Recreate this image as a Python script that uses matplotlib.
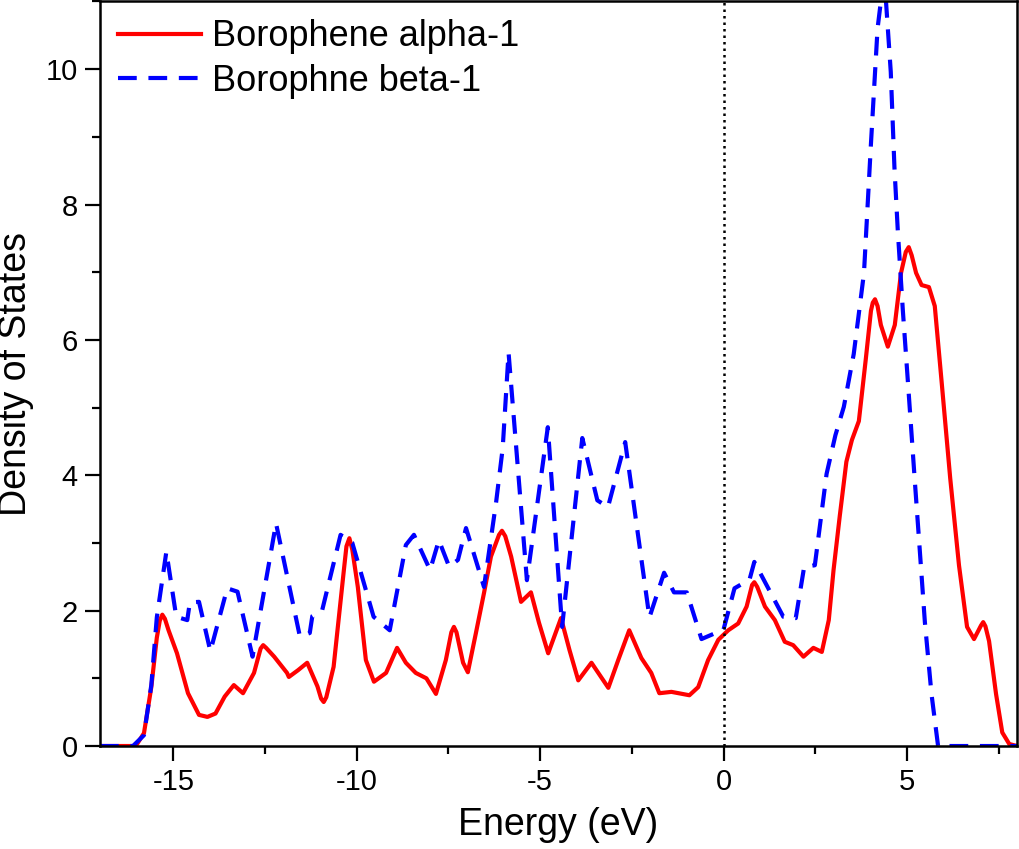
import matplotlib
matplotlib.use("Agg")
import matplotlib.pyplot as plt
from matplotlib.ticker import MultipleLocator

plt.rcParams['font.family'] = ['Liberation Sans', 'DejaVu Sans']
plt.rcParams['axes.unicode_minus'] = False

# Borophene alpha-1 (red, solid) - energy (eV), DOS
alpha_e = [-17.0, -16.1, -16.0, -15.8, -15.6, -15.45, -15.37, -15.3, -15.23, -15.13,
           -14.9, -14.6, -14.3, -14.07, -13.85, -13.6, -13.35, -13.1, -12.8, -12.62,
           -12.55, -12.47, -12.25, -11.9, -11.85, -11.6, -11.35, -11.07, -10.97, -10.9,
           -10.83, -10.63, -10.35, -10.28, -10.2, -10.12, -9.97, -9.75, -9.53, -9.2,
           -8.9, -8.66, -8.39, -8.1, -7.84, -7.57, -7.42, -7.35, -7.28, -7.1,
           -6.97, -6.75, -6.53, -6.34, -6.12, -6.04, -5.95, -5.79, -5.52, -5.25,
           -5.03, -4.78, -4.43, -4.2, -3.96, -3.6, -3.14, -2.87, -2.57, -2.24,
           -1.97, -1.75, -1.42, -0.93, -0.69, -0.42, -0.14, 0.13, 0.4, 0.63,
           0.78, 0.84, 0.92, 1.13, 1.4, 1.67, 1.9, 2.18, 2.45, 2.68,
           2.87, 3.0, 3.17, 3.35, 3.5, 3.69, 3.88, 4.02, 4.07, 4.13,
           4.2, 4.29, 4.48, 4.67, 4.84, 4.97, 5.05, 5.13, 5.25, 5.4,
           5.6, 5.76, 5.95, 6.18, 6.42, 6.64, 6.83, 7.02, 7.08, 7.14,
           7.24, 7.43, 7.6, 7.79, 8.0]
alpha_dos = [0.0, 0.0, 0.02, 0.19, 0.87, 1.6, 1.85, 1.94, 1.88, 1.71,
             1.37, 0.78, 0.46, 0.43, 0.48, 0.73, 0.9, 0.78, 1.08, 1.44,
             1.49, 1.45, 1.32, 1.08, 1.02, 1.12, 1.23, 0.88, 0.7, 0.65,
             0.72, 1.17, 2.6, 2.95, 3.07, 2.9, 2.35, 1.27, 0.95, 1.08,
             1.45, 1.23, 1.08, 1.0, 0.77, 1.27, 1.68, 1.76, 1.68, 1.23,
             1.09, 1.67, 2.26, 2.8, 3.12, 3.18, 3.1, 2.8, 2.13, 2.27,
             1.82, 1.37, 1.89, 1.42, 0.97, 1.23, 0.86, 1.27, 1.71, 1.3,
             1.08, 0.78, 0.8, 0.75, 0.87, 1.27, 1.57, 1.71, 1.81, 2.06,
             2.38, 2.42, 2.35, 2.06, 1.86, 1.54, 1.49, 1.32, 1.45, 1.39,
             1.86, 2.6, 3.4, 4.2, 4.52, 4.8, 5.72, 6.43, 6.55, 6.6,
             6.5, 6.22, 5.9, 6.22, 6.99, 7.3, 7.37, 7.25, 6.99, 6.81,
             6.78, 6.5, 5.36, 3.96, 2.67, 1.76, 1.58, 1.78, 1.83, 1.77,
             1.55, 0.77, 0.2, 0.03, 0.0]

# Borophne beta-1 (blue, dashed)
beta_e = [-17.0, -16.1, -15.8, -15.6, -15.45, -15.19, -14.92, -14.62, -14.55, -14.3,
          -13.99, -13.53, -13.25, -12.84, -12.2, -11.55, -11.28, -11.21, -10.94, -10.44,
          -10.12, -9.54, -9.1, -8.66, -8.44, -8.0, -7.76, -7.48, -7.24, -7.02,
          -6.53, -6.2, -6.02, -5.86, -5.36, -4.79, -4.4, -3.85, -3.44, -3.15,
          -2.68, -2.02, -1.62, -1.35, -1.0, -0.6, 0.0, 0.3, 0.71, 0.84,
          1.63, 1.97, 2.2, 2.49, 2.81, 3.05, 3.28, 3.55, 3.83, 4.02,
          4.2, 4.38, 4.56, 4.66, 4.75, 4.89, 5.03, 5.21, 5.35, 5.49,
          5.67, 5.85, 8.0]
beta_dos = [0.0, 0.0, 0.16, 0.9, 1.9, 2.87, 1.91, 1.86, 2.12, 2.13,
            1.4, 2.33, 2.28, 1.32, 3.29, 1.62, 1.67, 1.92, 2.01, 3.12,
            3.0, 1.91, 1.71, 2.97, 3.12, 2.6, 3.04, 2.65, 2.75, 3.22,
            2.35, 3.6, 4.4, 5.81, 2.45, 4.71, 1.76, 4.55, 3.63, 3.53,
            4.49, 1.9, 2.56, 2.27, 2.27, 1.58, 1.72, 2.33, 2.46, 2.72,
            1.91, 1.89, 2.65, 2.67, 4.02, 4.59, 5.01, 5.79, 6.99, 8.9,
            10.6, 11.4, 9.96, 8.55, 7.63, 6.43, 5.36, 3.96, 2.9, 1.83,
            0.77, 0.0, 0.0]

fig = plt.figure(figsize=(10.2, 8.49), dpi=100)
ax = fig.add_axes([0.098, 0.1213, 0.899, 0.877])

ax.plot(alpha_e, alpha_dos, color='#ff0000', lw=3, solid_joinstyle='round',
        label='Borophene alpha-1')
ax.plot(beta_e, beta_dos, color='#0000ff', lw=3, dashes=(4.5, 2.8),
        label='Borophne beta-1')
ax.axvline(0, color='black', lw=1.8, ls=(0, (1, 1.6)))

ax.set_xlim(-17, 8)
ax.set_ylim(0, 11)
ax.xaxis.set_major_locator(MultipleLocator(5))
ax.xaxis.set_minor_locator(MultipleLocator(2.5))
ax.yaxis.set_major_locator(MultipleLocator(2))
ax.yaxis.set_minor_locator(MultipleLocator(1))
ax.tick_params(which='major', direction='out', length=11, width=1.6, labelsize=21, pad=5)
ax.tick_params(which='minor', direction='out', length=6, width=1.6)
for sp in ax.spines.values():
    sp.set_linewidth(1.8)

ax.set_xlabel('Energy (eV)', fontsize=27, labelpad=8)
ax.set_ylabel('Density of States', fontsize=27, labelpad=8)

ax.legend(loc='upper left', frameon=False, fontsize=26, handlelength=2.3,
          handletextpad=0.3, labelspacing=0.25, borderaxespad=0.1)

fig.savefig('out.png', dpi=100, facecolor='white')
